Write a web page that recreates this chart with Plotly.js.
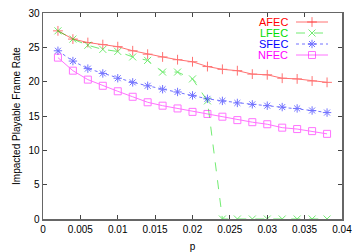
<!DOCTYPE html>
<html><head><meta charset="utf-8">
<script src="https://cdn.plot.ly/plotly-3.0.1.min.js"></script>
<style>html,body{margin:0;padding:0;background:#fff}#c{width:360px;height:252px}</style>
</head><body><div id="c"></div>
<script>
var p = [0.002,0.004,0.006,0.008,0.010,0.012,0.014,0.016,0.018,0.020,0.022,0.024,0.026,0.028,0.030,0.032,0.034,0.036,0.038];
var afec = [27.4,26.2,25.7,25.4,25.1,24.5,24.0,23.6,23.2,22.9,22.2,21.8,21.6,21.1,21.0,20.5,20.4,20.1,19.9];
var lfec = [27.4,26.2,25.3,24.7,24.4,23.6,23.1,21.4,21.4,20.4,17.2,0,0,0,0,0,0,0,0];
var sfec = [24.5,23.0,21.9,21.2,20.5,19.9,19.4,18.9,18.5,18.0,17.5,17.2,16.9,16.7,16.5,16.3,16.1,15.8,15.5];
var nfec = [23.5,21.6,20.3,19.4,18.6,17.8,17.0,16.5,16.1,15.6,15.3,14.9,14.4,14.1,13.8,13.3,13.1,12.8,12.4];
var names = ['AFEC','LFEC','SFEC','NFEC'];
var colors = ['#ff0000','#00dd00','#0000ff','#ff00ff'];
var symbols = ['cross-thin-open','x-thin-open','asterisk-open','square-open'];
var dashes = ['solid','dash','dot','solid'];
var sizes = [7,7,7,7];
var series = [afec,lfec,sfec,nfec];

// plot-area geometry in pixels
var W = 360, H = 252, L = 43, R = 18, T = 13, B = 33;
var pw = W - L - R, ph = H - T - B;
function fx(px){ return (px - L) / pw; }
function fy(py){ return (H - B - py) / ph; }

var traces = series.map(function(s,i){
  return {x:p, y:s, type:'scatter', mode:'lines+markers', showlegend:false,
    line:{color:colors[i], width:1, dash:dashes[i]},
    marker:{symbol:symbols[i], size:sizes[i], color:colors[i], line:{color:colors[i], width:1}},
    opacity:0.55};
});

// manual gnuplot-style key: text right-aligned, sample on the right
var keyTextRight = 290, keyLine0 = 296, keyLine1 = 328, keyRow0 = 22, keyRowStep = 11;
var annotations = [], shapes = [];
names.forEach(function(n,i){
  var ry = keyRow0 + i*keyRowStep;
  annotations.push({xref:'paper', yref:'paper', x:fx(keyTextRight), y:fy(ry), xanchor:'right', yanchor:'middle',
    text:n, showarrow:false, font:{family:'Liberation Sans, Arial, sans-serif', size:11, color:colors[i]}});
  shapes.push({type:'line', xref:'paper', yref:'paper', x0:fx(keyLine0), x1:fx(keyLine1), y0:fy(ry), y1:fy(ry),
    line:{color:colors[i], width:1, dash:dashes[i]}, opacity:0.55});
  traces.push({x:[fx((keyLine0+keyLine1)/2)], y:[fy(ry)], xaxis:'x2', yaxis:'y2', type:'scatter', mode:'markers',
    showlegend:false, cliponaxis:false, opacity:0.55,
    marker:{symbol:symbols[i], size:sizes[i], color:colors[i], line:{color:colors[i], width:1}}});
});

var axfont = {family:'Liberation Sans, Arial, sans-serif', size:10, color:'#000'};
var layout = {
  width:W, height:H,
  margin:{l:L, r:R, t:T, b:B, pad:0},
  paper_bgcolor:'#fff', plot_bgcolor:'#fff',
  font:axfont,
  showlegend:false,
  annotations:annotations, shapes:shapes,
  xaxis:{range:[0,0.04], dtick:0.005, tick0:0, ticks:'inside', ticklen:4, tickcolor:'#444',
    showline:true, linecolor:'#666', linewidth:1.5, mirror:'ticks', showgrid:false, zeroline:false,
    tickfont:axfont, title:{text:'p', font:axfont, standoff:10}},
  yaxis:{range:[0,30], dtick:5, tick0:0, ticks:'inside', ticklen:4, tickcolor:'#444',
    showline:true, linecolor:'#666', linewidth:1.5, mirror:'ticks', showgrid:false, zeroline:false,
    tickfont:axfont, title:{text:'Impacted Playable Frame Rate', font:axfont, standoff:6}},
  xaxis2:{overlaying:'x', range:[0,1], visible:false, fixedrange:true},
  yaxis2:{overlaying:'y', range:[0,1], visible:false, fixedrange:true}
};
Plotly.newPlot('c', traces, layout, {staticPlot:true, displayModeBar:false});
</script></body></html>
